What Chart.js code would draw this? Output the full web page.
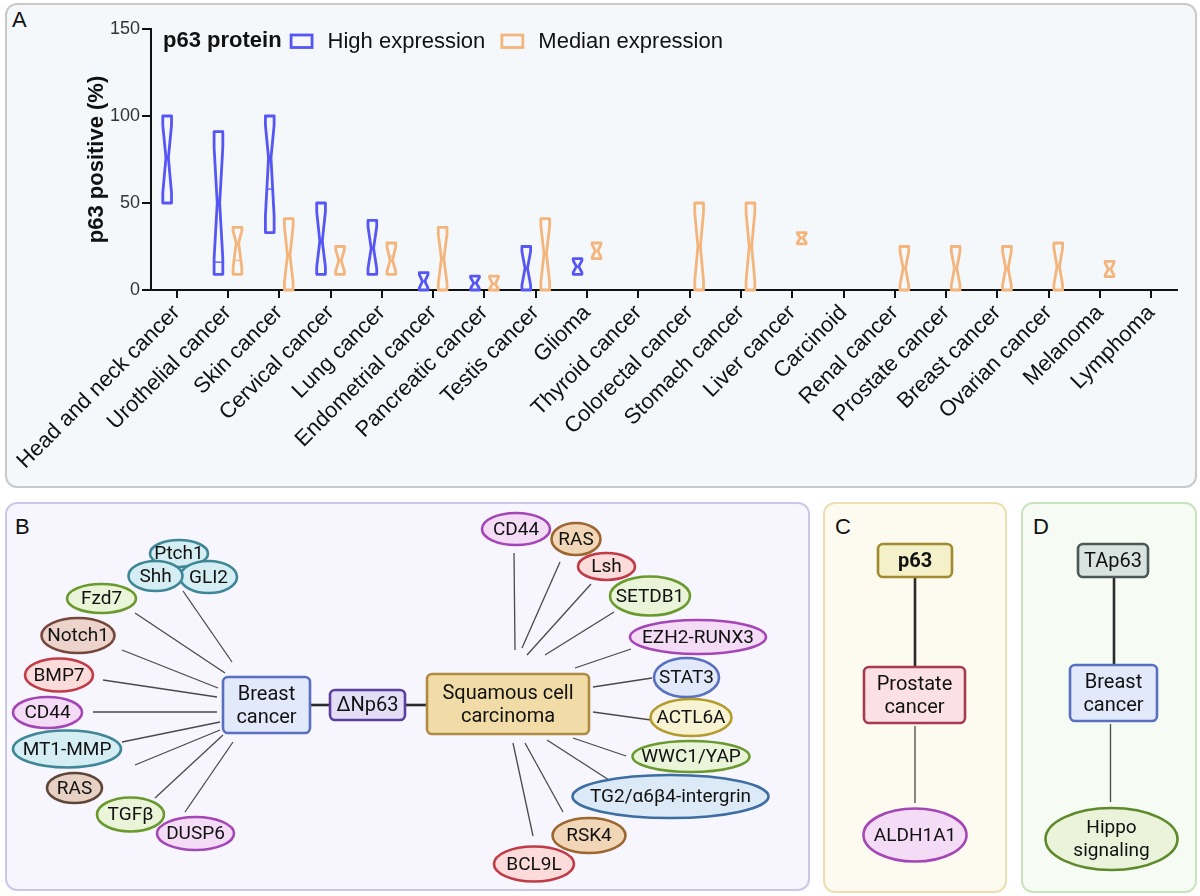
<!DOCTYPE html>
<html>
<head>
<meta charset="utf-8">
<script src="https://cdn.jsdelivr.net/npm/chart.js@4.4.1/dist/chart.umd.min.js"></script>
<style>
  body { margin: 0; width: 1200px; height: 896px; position: relative; background: #fff; overflow: hidden; }
  .panel { position: absolute; box-sizing: border-box; border-radius: 12px; }
  .tag { position: absolute; font: 22px "Liberation Sans", Arial, sans-serif; color: #111; }
  canvas { position: absolute; left: 0; }
</style>
</head>
<body>
<div class="panel" style="left:5px;top:3px;width:1192px;height:485px;background:#f5f8fb;border:2.5px solid #c9c9c9;"></div>
<div class="panel" style="left:5px;top:502px;width:805px;height:389px;background:#f7f5fd;border:2.5px solid #cbc7ec;"></div>
<div class="panel" style="left:823px;top:502px;width:184px;height:391px;background:#fdfaef;border:2.5px solid #ecdeb3;"></div>
<div class="panel" style="left:1021px;top:502px;width:176px;height:391px;background:#f6fbf3;border:2.5px solid #c9e4bd;"></div>
<div class="tag" style="left:12px;top:7px;">A</div>
<div class="tag" style="left:15px;top:514px;">B</div>
<div class="tag" style="left:835px;top:514px;">C</div>
<div class="tag" style="left:1033px;top:514px;">D</div>

<canvas id="chartA" width="1200" height="490" style="top:0;"></canvas>
<canvas id="diagram" width="1200" height="401" style="top:495px;"></canvas>

<script>
// ---- Panel A data (p63 positive %) ----
const cancers = ["Head and neck cancer", "Urothelial cancer", "Skin cancer", "Cervical cancer", "Lung cancer",
  "Endometrial cancer", "Pancreatic cancer", "Testis cancer", "Glioma", "Thyroid cancer", "Colorectal cancer",
  "Stomach cancer", "Liver cancer", "Carcinoid", "Renal cancer", "Prostate cancer", "Breast cancer",
  "Ovarian cancer", "Melanoma", "Lymphoma"];

const highMin    = [50, 9, 33, 9, 9, 0, 0, 0, 9, null, null, null, null, null, null, null, null, null, null, null];
const highMax    = [100, 91, 100, 50, 40, 10, 8, 25, 18, null, null, null, null, null, null, null, null, null, null, null];
const highWaist  = [76, 50, 76, 28, 24, 5, 4, 12.5, 13.5, null, null, null, null, null, null, null, null, null, null, null];
const highMedian = [76, 16, 58, 28, 24, 5, 4, 13, 13.5, null, null, null, null, null, null, null, null, null, null, null];

const medMin    = [null, 9, 0, 9, 9, 0, 0, 0, 18, null, 0, 0, 26.5, null, 0, 0, 0, 0, 7.7, null];
const medMax    = [null, 36, 41, 25, 27, 36, 8, 41, 27, null, 50, 50, 33, null, 25, 25, 25, 27, 16.5, null];
const medWaist  = [null, 27, 20, 17, 17, 18, 3.5, 21, 22.5, null, 25, 25, 30, null, 12.5, 12.5, 12.5, 13.5, 12, null];
const medMedian = [null, 17, 20, 17, 19.5, 18, 3.5, 21, 22.5, null, 25, 25, 30, null, 12.5, 12.5, 12.5, 13.5, 12, null];

const yTicks = [0, 50, 100, 150];

const BLUE = '#5656f4';
const ORANGE = '#f4b57c';
const CHART_FONT = '"Liberation Sans", Arial, Helvetica, sans-serif';

// floating bars give us the x slot for each violin; the outline itself is drawn below
function ranges(lo, hi) {
  return lo.map((v, i) => v == null ? null : [v, hi[i]]);
}

// violin-ish outline: full width at both ends, pinched at the waist
const violinPlugin = {
  id: 'violins',
  afterDatasetsDraw(chart) {
    const ctx = chart.ctx;
    const ys = chart.scales.y;
    chart.data.datasets.forEach((ds, di) => {
      const meta = chart.getDatasetMeta(di);
      meta.data.forEach((bar, i) => {
        const lo = ds.lo[i], hi = ds.hi[i];
        if (lo == null) return;
        const w = ds.waist[i];
        const half = bar.width / 2;
        const pinch = 0.28;
        const hw = v => {
          const d = v > w ? (hi - w) : (w - lo);
          const t = d > 0 ? Math.min(1, Math.abs(v - w) / (0.78 * d)) : 1;
          return half * (pinch + (1 - pinch) * t);
        };
        const n = 60;
        const pts = [];
        for (let k = 0; k <= n; k++) {
          const v = hi - (hi - lo) * k / n;
          pts.push([v, hw(v)]);
        }
        ctx.save();
        ctx.strokeStyle = ds.lineColor;
        ctx.lineWidth = 2.8;
        ctx.lineJoin = 'round';
        ctx.beginPath();
        pts.forEach(([v, h], k) => {
          const px = bar.x - h, py = ys.getPixelForValue(v);
          k ? ctx.lineTo(px, py) : ctx.moveTo(px, py);
        });
        for (let k = pts.length - 1; k >= 0; k--) {
          const [v, h] = pts[k];
          ctx.lineTo(bar.x + h, ys.getPixelForValue(v));
        }
        ctx.closePath();
        ctx.stroke();
        const m = ds.median[i];
        if (m != null) {
          const mh = hw(m);
          const my = ys.getPixelForValue(m);
          ctx.lineWidth = 1.3;
          ctx.beginPath();
          ctx.moveTo(bar.x - mh, my);
          ctx.lineTo(bar.x + mh, my);
          ctx.stroke();
        }
        ctx.restore();
      });
    });
  }
};

// inline legend: bold title then outlined boxes
const legendPlugin = {
  id: 'inlineLegend',
  afterDraw(chart) {
    const ctx = chart.ctx;
    const yc = chart.chartArea.top + 12;
    let x = chart.chartArea.left + 12;
    ctx.save();
    ctx.textBaseline = 'middle';
    ctx.fillStyle = '#111';
    ctx.font = 'bold 22px ' + CHART_FONT;
    ctx.fillText('p63 protein', x, yc);
    x += ctx.measureText('p63 protein').width + 8;
    ctx.font = '22px ' + CHART_FONT;
    chart.data.datasets.forEach(ds => {
      ctx.strokeStyle = ds.lineColor;
      ctx.lineWidth = 2.8;
      ctx.strokeRect(x + 1.5, yc - 6, 21, 12.5);
      x += 38;
      ctx.fillStyle = '#111';
      ctx.fillText(ds.label, x, yc + 1);
      x += ctx.measureText(ds.label).width + 15;
    });
    ctx.restore();
  }
};

new Chart(document.getElementById('chartA'), {
  type: 'bar',
  data: {
    labels: cancers,
    datasets: [
      { label: 'High expression', data: ranges(highMin, highMax), lo: highMin, hi: highMax,
        waist: highWaist, median: highMedian, lineColor: BLUE,
        backgroundColor: 'rgba(0,0,0,0)', borderWidth: 0,
        categoryPercentage: 0.74, barPercentage: 0.46 },
      { label: 'Median expression', data: ranges(medMin, medMax), lo: medMin, hi: medMax,
        waist: medWaist, median: medMedian, lineColor: ORANGE,
        backgroundColor: 'rgba(0,0,0,0)', borderWidth: 0,
        categoryPercentage: 0.74, barPercentage: 0.46 }
    ]
  },
  options: {
    responsive: false,
    animation: false,
    events: [],
    layout: { padding: { top: 29, right: 23, left: 80, bottom: 0 } },
    plugins: { legend: { display: false }, tooltip: { enabled: false } },
    scales: {
      x: {
        grid: { offset: false, drawOnChartArea: false, tickLength: 8, color: '#111', lineWidth: 2 },
        border: { color: '#111', width: 2 },
        ticks: { font: { family: CHART_FONT, size: 22 }, color: '#111', minRotation: 45, maxRotation: 45,
          autoSkip: false, padding: 2 },
        afterFit: s => { s.height = 200; }
      },
      y: {
        min: 0, max: 150,
        afterBuildTicks: s => { s.ticks = yTicks.map(v => ({ value: v })); },
        grid: { drawOnChartArea: false, tickLength: 9, color: '#111', lineWidth: 2 },
        border: { color: '#111', width: 2 },
        ticks: { font: { family: CHART_FONT, size: 18 }, color: '#333', padding: 2 },
        title: { display: true, text: 'p63 positive (%)', color: '#111',
          font: { family: CHART_FONT, size: 22, weight: 'bold' }, padding: 4 },
        afterFit: s => { s.width = 71; }
      }
    }
  },
  plugins: [violinPlugin, legendPlugin]
});

// ---- Panels B-D: interaction diagrams (page coordinates) ----
const pal = {
  teal:   ['#d5eef3', '#3f8796'],
  green:  ['#e9f4d8', '#6a9a2e'],
  brown:  ['#ecd3cb', '#74473a'],
  red:    ['#fbdcda', '#c13b47'],
  purple: ['#f4dcf6', '#a446b5'],
  ras:    ['#e6d1c4', '#5e4536'],
  tan:    ['#f1d6b8', '#9b6630'],
  blue:   ['#e2e9fa', '#5870bf'],
  gold:   ['#f7f3d3', '#b39b2c'],
  steel:  ['#dce9f6', '#3c6ea4'],
  violet: ['#e3ddf6', '#5a3f9e'],
  sand:   ['#f1dca7', '#b08a40'],
  olive:  ['#f4f0c9', '#a18b2e'],
  pink:   ['#fbe1e5', '#a63a4e'],
  gray:   ['#d9e4e1', '#4b5856'],
  hippo:  ['#ebf3da', '#5d8a2a']
};

// ellipses: [label, cx, cy, rx, ry, colour]
const ellipses = [
  ['Ptch1', 179, 553.5, 29, 13.5, 'teal'],
  ['GLI2', 208.5, 577, 28.5, 16, 'teal'],
  ['Shh', 155.5, 576, 27, 15, 'teal'],
  ['Fzd7', 101.5, 598.5, 34.5, 14.5, 'green'],
  ['Notch1', 78, 635.5, 36.5, 17.5, 'brown'],
  ['BMP7', 59, 675, 34, 16.5, 'red'],
  ['CD44', 47.5, 712.5, 34.5, 15.5, 'purple'],
  ['MT1-MMP', 67, 749, 54, 18.5, 'teal'],
  ['RAS', 74.5, 788, 27.5, 15, 'ras'],
  ['DUSP6', 195.5, 833.5, 38.5, 16.5, 'purple'],
  ['TGFβ', 130.5, 814.5, 33.5, 17, 'green'],
  ['CD44', 516, 529, 34, 16, 'purple'],
  ['RAS', 576, 539, 24.5, 16, 'tan'],
  ['Lsh', 606.5, 566.5, 28.5, 13.5, 'red'],
  ['SETDB1', 650, 596, 40, 19.5, 'green'],
  ['EZH2-RUNX3', 698, 637, 68, 17, 'purple'],
  ['STAT3', 686.5, 677.5, 32.5, 19.5, 'blue'],
  ['ACTL6A', 691, 717.5, 40.5, 18.5, 'gold'],
  ['WWC1/YAP', 691, 756.5, 58.5, 15.5, 'green'],
  ['TG2/α6β4-intergrin', 670.5, 796.5, 98, 21.5, 'steel'],
  ['RSK4', 589, 835.5, 36.5, 17.5, 'tan'],
  ['BCL9L', 534, 864, 40, 17.5, 'red'],
  ['ALDH1A1', 915, 835, 51.5, 26.5, 'purple'],
  ['Hippo\nsignaling', 1111.5, 839, 66, 31, 'hippo']
];

// boxes: [label, x0, y0, x1, y1, colour, bold]
const boxes = [
  ['Breast\ncancer', 223, 677, 310, 733, 'blue', false],
  ['ΔNp63', 330, 690, 405, 720, 'violet', false],
  ['Squamous cell\ncarcinoma', 427, 674, 589, 734, 'sand', false],
  ['p63', 878, 544, 952, 577, 'olive', true],
  ['Prostate\ncancer', 864, 667, 965, 723, 'pink', false],
  ['TAp63', 1078, 544, 1148, 577, 'gray', false],
  ['Breast\ncancer', 1070, 665, 1157, 721, 'blue', false]
];

// thin spokes: [x0, y0, x1, y1]
const spokes = [
  [183, 591, 232, 662], [135, 613, 225, 673], [122, 650, 218, 688], [103, 680, 217, 697],
  [93, 712, 217, 712], [122, 742, 220, 722], [135, 765, 220, 730], [155, 798, 223, 735],
  [185, 812, 233, 742],
  [514, 553, 515, 650], [560, 562, 522, 648], [591, 584, 527, 655], [614, 612, 545, 655],
  [631, 649, 575, 668], [652, 678, 593, 687], [651, 720, 593, 712], [626, 756, 573, 738],
  [609, 780, 547, 740], [563, 812, 525, 743], [533, 836, 513, 743],
  [915, 726, 915, 803], [1110.5, 724, 1110.5, 802]
];
// heavy links between boxes
const links = [
  [310, 705, 330, 705], [405, 705, 427, 705], [915, 577, 915, 667], [1114, 577, 1114, 665]
];

const DIAG_FONT = 'Roboto, "Noto Sans", sans-serif';

const edgeSets = spokes.map(s => ({
  type: 'line', data: [{ x: s[0], y: s[1] }, { x: s[2], y: s[3] }],
  borderColor: '#4a4a4a', borderWidth: 1.3, pointRadius: 0
})).concat(links.map(s => ({
  type: 'line', data: [{ x: s[0], y: s[1] }, { x: s[2], y: s[3] }],
  borderColor: '#2b2b2b', borderWidth: 2.6, pointRadius: 0
})));

function drawLabel(ctx, text, cx, cy, bold) {
  const lines = text.split('\n');
  ctx.font = (bold ? 'bold ' : '') + '20px ' + DIAG_FONT;
  ctx.fillStyle = '#111';
  ctx.textAlign = 'center';
  ctx.textBaseline = 'middle';
  const lh = 23;
  lines.forEach((t, k) => ctx.fillText(t, cx, cy + (k - (lines.length - 1) / 2) * lh + 1));
}

const nodePlugin = {
  id: 'nodes',
  afterDatasetsDraw(chart) {
    const ctx = chart.ctx, xs = chart.scales.x, ys = chart.scales.y;
    const sx = v => xs.getPixelForValue(v), sy = v => ys.getPixelForValue(v);
    ctx.save();
    ctx.lineWidth = 2.6;
    boxes.forEach(([t, x0, y0, x1, y1, c, bold]) => {
      ctx.fillStyle = pal[c][0];
      ctx.strokeStyle = pal[c][1];
      ctx.beginPath();
      ctx.roundRect(sx(x0), sy(y0), sx(x1) - sx(x0), sy(y1) - sy(y0), 5);
      ctx.fill();
      ctx.stroke();
      drawLabel(ctx, t, (sx(x0) + sx(x1)) / 2, (sy(y0) + sy(y1)) / 2, bold);
    });
    ellipses.forEach(([t, cx, cy, rx, ry, c]) => {
      ctx.fillStyle = pal[c][0];
      ctx.strokeStyle = pal[c][1];
      ctx.lineWidth = 2.6;
      ctx.beginPath();
      ctx.ellipse(sx(cx), sy(cy), sx(cx + rx) - sx(cx), sy(cy + ry) - sy(cy), 0, 0, Math.PI * 2);
      ctx.fill();
      ctx.stroke();
      ctx.save();
      const lines = t.split('\n');
      ctx.font = '19px ' + DIAG_FONT;
      ctx.fillStyle = '#111';
      ctx.textAlign = 'center';
      ctx.textBaseline = 'middle';
      lines.forEach((s, k) => ctx.fillText(s, sx(cx), sy(cy) + (k - (lines.length - 1) / 2) * 23 + 1));
      ctx.restore();
    });
    ctx.restore();
  }
};

new Chart(document.getElementById('diagram'), {
  type: 'scatter',
  data: {
    datasets: edgeSets.concat([{
      label: 'nodes',
      data: ellipses.map(e => ({ x: e[1], y: e[2] })),
      pointRadius: 0
    }])
  },
  options: {
    responsive: false,
    animation: false,
    events: [],
    layout: { padding: 0 },
    plugins: { legend: { display: false }, tooltip: { enabled: false } },
    scales: {
      x: { type: 'linear', min: 0, max: 1200, display: false },
      y: { type: 'linear', min: 495, max: 896, reverse: true, display: false }
    }
  },
  plugins: [nodePlugin]
});
</script>
</body>
</html>
